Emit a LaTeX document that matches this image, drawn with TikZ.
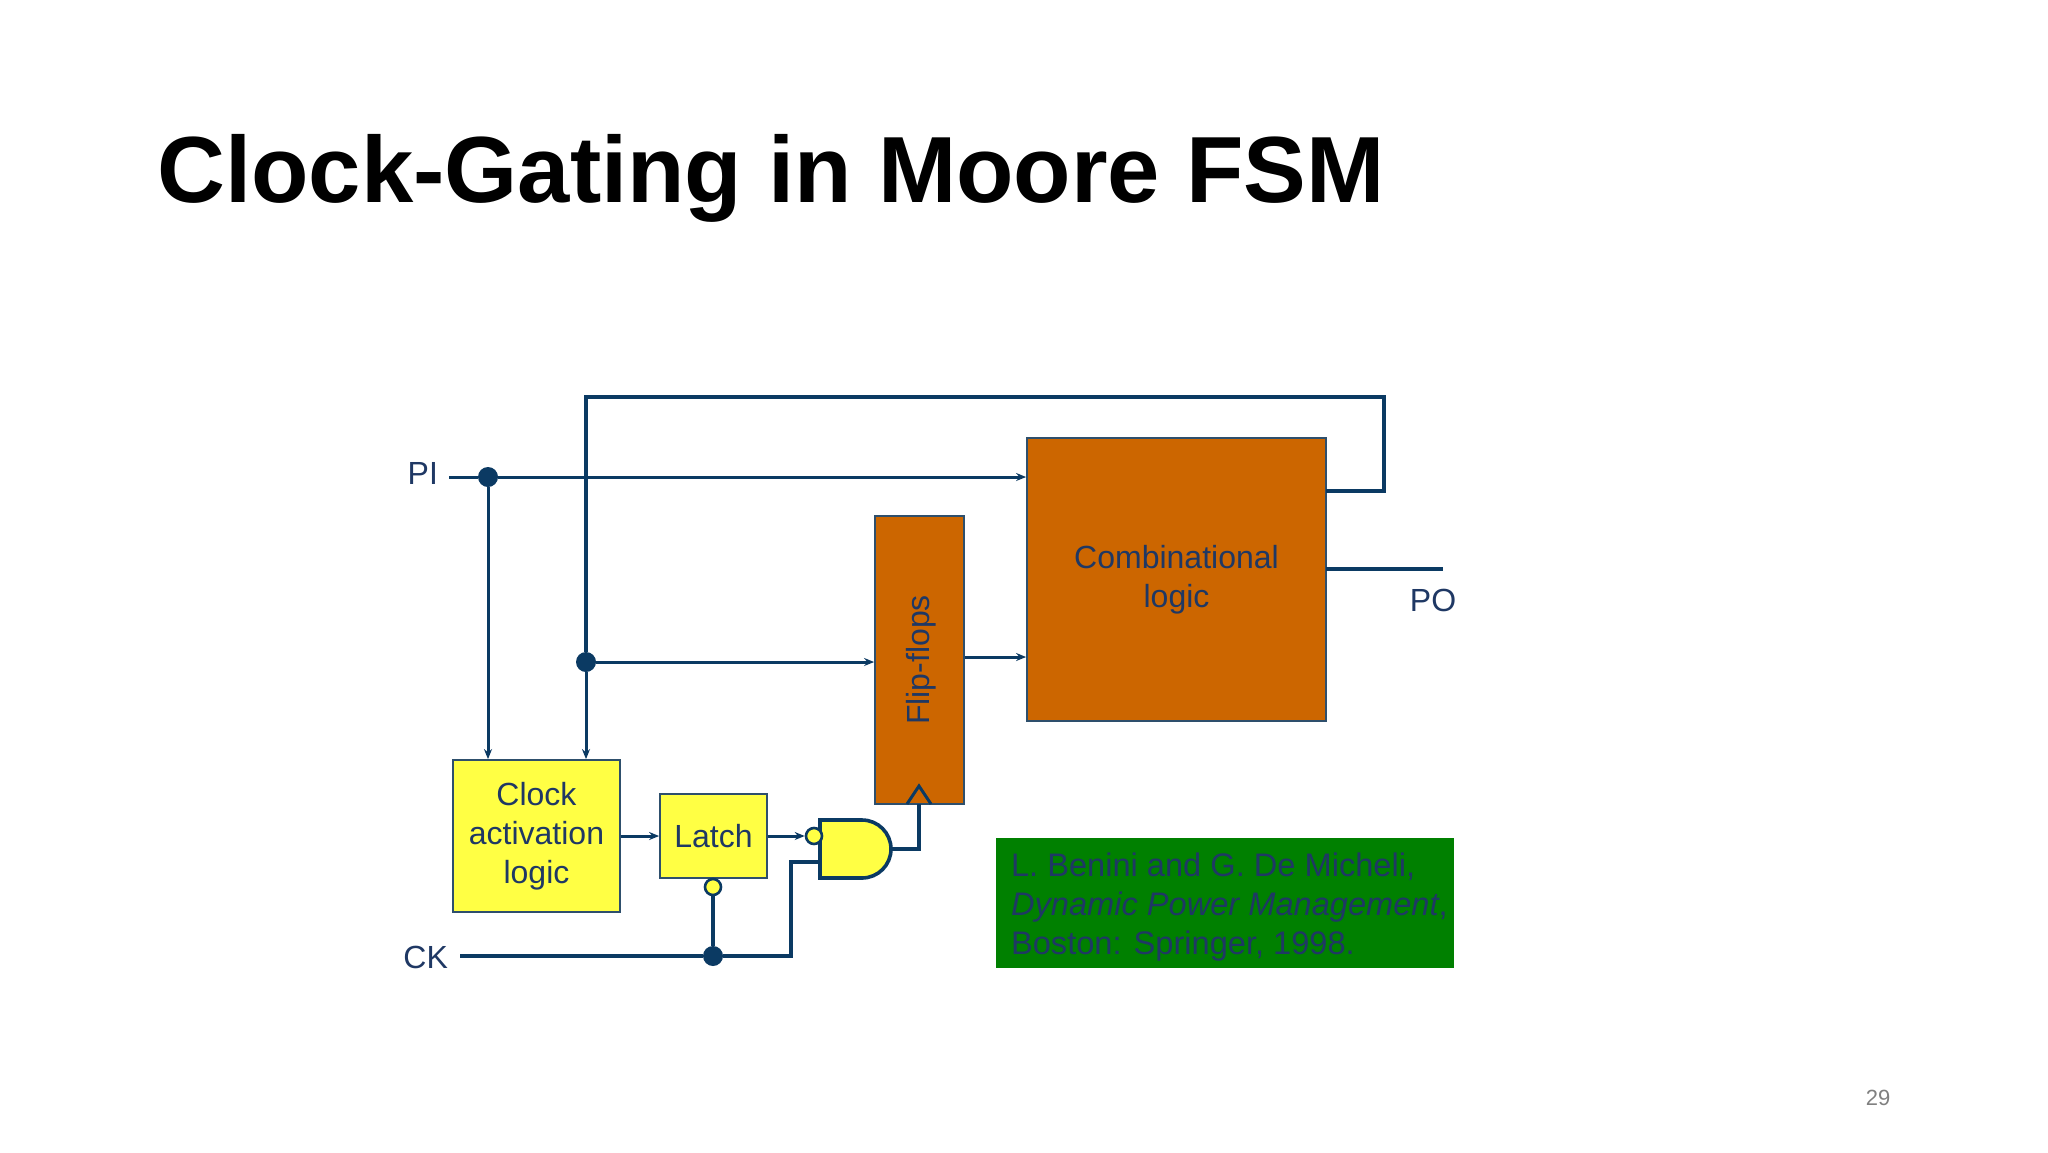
\documentclass[tikz,border=0pt]{standalone}
\usepackage{fontspec}
\setmainfont{Liberation Sans}
\usetikzlibrary{arrows.meta}
\definecolor{wire}{HTML}{0B3A63}
\definecolor{txt}{HTML}{1F3864}
\definecolor{comb}{HTML}{CC6600}
\definecolor{yel}{HTML}{FFFF44}
\definecolor{grn}{HTML}{008000}
\begin{document}
\begin{tikzpicture}[x=0.5pt,y=-0.5pt,
  thin wire/.style={draw=wire,line width=1.5pt},
  thick wire/.style={draw=wire,line width=2.4pt},
  arr/.style={thin wire,-{Stealth[length=5pt,width=4pt]}},
  blk/.style={draw=wire!70!gray,line width=0.9pt,inner sep=0pt,align=center,text=txt,font=\fontsize{16}{19.5}\selectfont},
  dot/.style={circle,fill=wire,inner sep=0pt,minimum size=10pt},
  bub/.style={circle,draw=wire,line width=1.3pt,fill=yel,inner sep=0pt,minimum size=8pt},
  lbl/.style={text=txt,font=\fontsize{16}{19.5}\selectfont}]
\useasboundingbox (0,0) rectangle (2048,1152);
\fill[white] (0,0) rectangle (2048,1152);
\node[anchor=base west,inner sep=0pt,font=\bfseries\fontsize{47}{56}\selectfont] (title) at (157,202) {Clock-Gating in Moore FSM};
\node[text=gray,font=\fontsize{11}{13}\selectfont] (pg) at (1878,1098) {29};
% blocks
\node[blk,fill=comb,minimum width=149.5pt,minimum height=141.5pt] (cl) at (1176.5,579.5) {Combinational\\logic};
\node[blk,fill=comb,minimum width=44.5pt,minimum height=144pt] (ff) at (919.5,660) {};
\node[lbl,rotate=90] (fft) at (921,660) {Flip-flops};
\node[blk,fill=yel,minimum width=83.5pt,minimum height=76pt] (cal) at (536.5,836) {Clock\\activation\\logic};
\node[blk,fill=yel,minimum width=53.5pt,minimum height=42pt] (la) at (713.5,836) {Latch};
% clock triangle
\draw[thin wire] (907,804) -- (919,786) -- (931,804);
% AND gate
\draw[thin wire,fill=yel,line width=1.8pt] (820,820) -- (862,820) arc[start angle=-90,end angle=90,radius=29] -- (820,878) -- cycle;
\coordinate (gout) at (891,849);
\coordinate (gin1) at (820,836);
\coordinate (gin2) at (820,862);
\node[bub] (b1) at (814,836) {};
\node[bub] (b2) at (713,887) {};
% labels
\node[lbl,anchor=east] (pi) at (445,473) {PI};
\node[lbl,anchor=east] (ck) at (455,957) {CK};
\node[lbl] (po) at (1433,600) {PO};
% coordinates
\coordinate (pis) at (449,477);
\node[dot] (pid) at (488,477) {};
\coordinate (fbt) at (586,397);
\coordinate (fbtr) at (1384,397);
\coordinate (fbr) at (1384,491);
\coordinate (fbl) at (1326,491);
\node[dot] (fbd) at (586,662) {};
\coordinate (cks) at (460,956);
\node[dot] (ckd) at (713,956) {};
\coordinate (ckc) at (791,956);
\coordinate (ckt) at (791,862);
\coordinate (gr) at (919,849);
\coordinate (trb) at (919,804);
\coordinate (pos) at (1326,569);
\coordinate (poe) at (1443,569);
% wires
\draw[thin wire] (pis) -- (pid);
\draw[arr] (pid) -- (pid -| cl.west);
\draw[arr] (pid) -- (pid |- cal.north);
\draw[thick wire] (fbl) -- (fbr) -- (fbtr) -- (fbt) -- (fbd);
\draw[arr] (fbd) -- (fbd |- cal.north);
\draw[arr] (fbd) -- (fbd -| ff.west);
\draw[arr] (ff.east |- 0,657) -- (cl.west |- 0,657);
\draw[thick wire] (pos) -- (poe);
\draw[arr] (cal.east) -- (la.west);
\draw[arr] (la.east) -- (b1.west);
\draw[thick wire] (cks) -- (ckd) -- (ckc) -- (ckt) -- (gin2);
\draw[thick wire] (ckd) -- (b2.south);
\draw[thick wire] (gout) -- (gr) -- (trb);
% citation
\node[fill=grn,minimum width=229pt,minimum height=65pt,inner sep=0pt] (cit) at (1225,903) {};
\node[anchor=west,align=left,text=txt,font=\fontsize{16.3}{19.5}\selectfont] (citt) at (1004,907) {L. Benini and G. De Micheli,\\\textit{Dynamic Power Management},\\Boston: Springer, 1998.};
\end{tikzpicture}
\end{document}
